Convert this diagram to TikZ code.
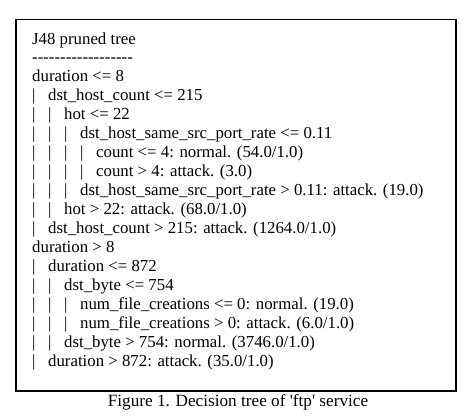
\documentclass[tikz,border=0pt]{standalone}
\usepackage{fontspec}
\setmainfont{Liberation Serif}[Ligatures=TeXOff]
\newcommand{\vb}{\makebox[16pt][l]{|}}
\tikzset{
  treeline/.style={anchor=base west,inner sep=0pt,font=\fontsize{16.8}{19}\selectfont},
  caption/.style={anchor=base,inner sep=0pt,font=\fontsize{17.2}{20}\selectfont}
}
\begin{document}
\begin{tikzpicture}[x=1pt,y=-1pt]
  \useasboundingbox (0,0) rectangle (474,416);
  \draw[line width=1.8pt] (15.7,19.5) rectangle (456,391);
  % listing, one node per row
  \node[treeline] (title) at (32,44) {J48 pruned tree};
  \node[treeline] (rule) at (32,62.9) {------------------};
  \node[treeline] (r1) at (32,81.9) {duration <= 8};
  \node[treeline] (r2) at (32,100.8) {\vb dst\_host\_count <= 215};
  \node[treeline] (r3) at (32,119.8) {\vb\vb hot <= 22};
  \node[treeline] (r4) at (32,138.7) {\vb\vb\vb dst\_host\_same\_src\_port\_rate <= 0.11};
  \node[treeline] (r5) at (32,157.6) {\vb\vb\vb\vb count <= 4: normal. (54.0/1.0)};
  \node[treeline] (r6) at (32,176.6) {\vb\vb\vb\vb count > 4: attack. (3.0)};
  \node[treeline] (r7) at (32,195.5) {\vb\vb\vb dst\_host\_same\_src\_port\_rate > 0.11: attack. (19.0)};
  \node[treeline] (r8) at (32,214.5) {\vb\vb hot > 22: attack. (68.0/1.0)};
  \node[treeline] (r9) at (32,233.4) {\vb dst\_host\_count > 215: attack. (1264.0/1.0)};
  \node[treeline] (r10) at (32,252.4) {duration > 8};
  \node[treeline] (r11) at (32,271.3) {\vb duration <= 872};
  \node[treeline] (r12) at (32,290.3) {\vb\vb dst\_byte <= 754};
  \node[treeline] (r13) at (32,309.2) {\vb\vb\vb num\_file\_creations <= 0: normal. (19.0)};
  \node[treeline] (r14) at (32,328.1) {\vb\vb\vb num\_file\_creations > 0: attack. (6.0/1.0)};
  \node[treeline] (r15) at (32,347.1) {\vb\vb dst\_byte > 754: normal. (3746.0/1.0)};
  \node[treeline] (r16) at (32,366) {\vb duration > 872: attack. (35.0/1.0)};
  \node[caption] (cap) at (238,406.5) {Figure 1. Decision tree of 'ftp' service};
\end{tikzpicture}
\end{document}
